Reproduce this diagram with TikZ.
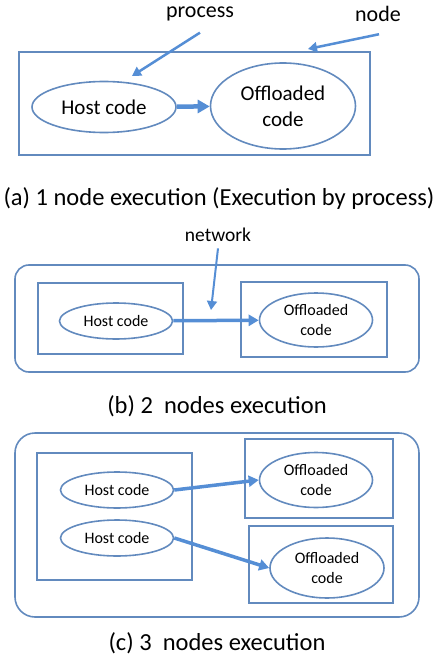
\documentclass[tikz,border=0pt]{standalone}
\usepackage{fontspec}
\setmainfont{Carlito}
\usetikzlibrary{arrows.meta,shapes.geometric,positioning}

\definecolor{boxblue}{RGB}{98,138,190}
\definecolor{flowblue}{RGB}{85,142,213}

\begin{document}
\begin{tikzpicture}[x=1pt, y=-1pt,
    frame/.style={draw=boxblue, line width=1.6pt, inner sep=0pt},
    task/.style={ellipse, draw=boxblue, line width=1.6pt, inner sep=0pt, align=center},
    flow/.style={flowblue, line width=3.5pt, -{Triangle[length=10pt,width=11pt]}},
    pointer/.style={flowblue, line width=2.5pt, -{Triangle[length=9pt,width=10pt]}},
    caption/.style={font=\fontsize{24.5}{29}\selectfont}]
          % Page size
          \useasboundingbox (0,0) rectangle (439,661);

          % Define fonts
          \def\big{\fontsize{21}{26}\selectfont}
          \def\small{\fontsize{16}{20}\selectfont}

          % (a) one node
          \node[frame, minimum width=351, minimum height=103] (nodeA) at (194.5,103.5) {};
          \node[task, minimum width=144, minimum height=51, font=\big] (hostA) at (104,107) {Host code};
          \node[task, minimum width=145, minimum height=86, font=\big] (offA) at (283,106) {Offloaded\\code};
          \draw[flow, line width=4.5pt, -{Triangle[length=12pt,width=13pt]}] (hostA) -- (offA);

          % Labels with pointers
          \node[font=\fontsize{22}{26}\selectfont] (procLbl) at (200,14) {process};
          \node[font=\fontsize{22}{26}\selectfont] (nodeLbl) at (378,14) {node};
          \coordinate (procTip) at (132,76);
          \coordinate (nodeTip) at (308,49);
          \draw[pointer] (procLbl.south) ++(0,8) -- (procTip);
          \draw[pointer] (nodeLbl.south) ++(1,9) -- (nodeTip);

          \node[caption] (capA) at (219,199) {(a) 1 node execution (Execution by process)};

          % (b) two nodes
          \node[font=\fontsize{19.5}{23}\selectfont] (netLbl) at (218,235) {network};
          \node[frame, rounded corners=14, minimum width=404, minimum height=107] (netB) at (217,318.5) {};
          \node[frame, minimum width=145, minimum height=71] (leftB) at (110.5,318.5) {};
          \node[frame, minimum width=146, minimum height=75] (rightB) at (314,319.5) {};
          \node[task, minimum width=113, minimum height=36, font=\small] (hostB) at (116,321) {Host code};
          \node[task, minimum width=113, minimum height=54, font=\small] (offB) at (316,320) {Offloaded\\code};
          \draw[flow] (hostB) -- (offB);
          \coordinate (netTip) at (211,310);
          \draw[pointer, line width=2pt] (netLbl.south) ++(0,3) -- (netTip);

          \node[caption] (capB) at (217,406) {(b) 2~~nodes execution};

          % (c) three nodes
          \node[frame, rounded corners=20, minimum width=404, minimum height=184] (netC) at (217,525) {};
          \node[frame, minimum width=155, minimum height=127] (leftC) at (114.5,516.5) {};
          \node[frame, minimum width=148, minimum height=79] (rightC1) at (319,478.5) {};
          \node[frame, minimum width=144, minimum height=77] (rightC2) at (321,564.5) {};
          \node[task, minimum width=113, minimum height=36, font=\small] (hostC1) at (117,490) {Host code};
          \node[task, minimum width=113, minimum height=36, font=\small] (hostC2) at (117,538) {Host code};
          \node[task, minimum width=113, minimum height=55, font=\small] (offC1) at (316,480) {Offloaded\\code};
          \node[task, minimum width=114, minimum height=60, font=\small] (offC2) at (327,568) {Offloaded\\code};
          \draw[flow] (hostC1.east) -- (offC1.west);
          \draw[flow] (hostC2.east) -- (offC2.west);

          \node[caption] (capC) at (217,643) {(c) 3~~nodes execution};
        \end{tikzpicture}
\end{document}
